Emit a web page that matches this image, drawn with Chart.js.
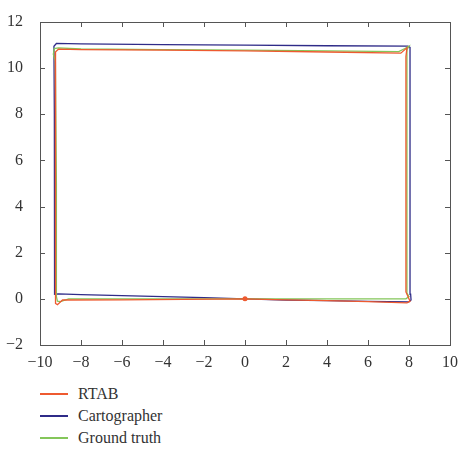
<!DOCTYPE html>
<html lang="en">
<head>
    <meta charset="UTF-8">
    <title>Trajectories</title>
    <script src="https://cdn.jsdelivr.net/npm/chart.js"></script>
    <style>
        body { margin: 0; background: #fff; font-family: "Liberation Serif", serif; }
        .wrap { position: relative; width: 474px; height: 460px; }
        canvas { position: absolute; left: 0; top: 0; }
        .legend { position: absolute; left: 40px; top: 383px; font-size: 16px; color: #333; }
        .row { height: 22px; display: flex; align-items: center; }
        .swatch { width: 28px; height: 1.5px; margin-right: 10px; }
    </style>
</head>
<body>
    <div class="wrap">
        <canvas id="grafico" width="474" height="380"></canvas>
        <div class="legend" id="legenda"></div>
    </div>

<script>
    // valores
    const seriesNames = ['RTAB', 'Cartographer', 'Ground truth'];
    const seriesColors = ['#ee5a30', '#2f2b88', '#84c65a'];

    const xTicks = [-10, -8, -6, -4, -2, 0, 2, 4, 6, 8, 10];
    const yTicks = [-2, 0, 2, 4, 6, 8, 10, 12];

    const rtabX = [0, 2, 4, 6, 7.9, 8.05, 7.95, 7.85, 7.85, 7.85, 7.9, 7.6, 4, 0, -4, -8, -9.1, -9.25, -9.25, -9.25, -9.25, -9.22, -9.15, -8.9, -6, -3, 0];
    const rtabY = [0, -0.04, -0.08, -0.12, -0.17, -0.1, 0.1, 0.3, 5, 10.5, 10.88, 10.65, 10.7, 10.75, 10.78, 10.8, 10.82, 10.7, 8, 4, 0.1, -0.2, -0.25, -0.05, -0.04, -0.02, 0];

    const cartoX = [0, 2, 4, 6, 8.0, 8.1, 8.08, 8.05, 8.05, 7.95, 4, 0, -4, -8, -9.2, -9.32, -9.3, -9.3, -9.28, -9.1, -8, -6, -4, -2, 0];
    const cartoY = [0, -0.05, -0.08, -0.11, -0.13, -0.05, 0.2, 5, 10.9, 10.95, 10.97, 11.0, 11.02, 11.05, 11.07, 10.95, 8, 4, 0.2, 0.22, 0.18, 0.14, 0.1, 0.05, 0];

    const truthX = [0, 4, 7.85, 8.0, 7.9, 7.9, 7.9, 8.0, 7.8, 7.5, 4, 0, -4, -8, -9.1, -9.3, -9.35, -9.25, -9.2, -9.2, -9.15, -9.0, -8.6, -4, 0];
    const truthY = [0, 0, 0, 0.1, 0.25, 5, 10.8, 10.95, 10.85, 10.72, 10.75, 10.78, 10.8, 10.83, 10.88, 10.85, 10.6, 10.3, 5, 0.1, -0.1, -0.12, 0, 0, 0];

    function pontos(xs, ys) {
        return xs.map((x, i) => ({ x: x, y: ys[i] }));
    }

    const allX = [rtabX, cartoX, truthX];
    const allY = [rtabY, cartoY, truthY];

    const datasets = seriesNames.map((nome, i) => ({
        label: nome,
        data: pontos(allX[i], allY[i]),
        showLine: true,
        borderColor: seriesColors[i],
        backgroundColor: seriesColors[i],
        borderWidth: 1.3,
        // ponto inicial do RTAB marcado
        pointRadius: i === 0 ? (ctx => ctx.dataIndex === 0 ? 2.5 : 0) : 0,
        pointBorderWidth: 0,
        tension: 0,
        order: i === 0 ? 0 : 3 - i
    }));

    const menos = v => String(v).replace('-', '\u2212');

    // caixa em volta e ticks para dentro (estilo matlab)
    const caixa = {
        id: 'caixa',
        afterDraw(chart) {
            const { ctx, chartArea: a, scales } = chart;
            ctx.save();
            ctx.strokeStyle = '#555';
            ctx.lineWidth = 1;
            ctx.strokeRect(Math.round(a.left) + 0.5, Math.round(a.top) + 0.5, Math.round(a.right - a.left), Math.round(a.bottom - a.top));
            ctx.beginPath();
            xTicks.forEach(v => {
                const px = Math.round(scales.x.getPixelForValue(v)) + 0.5;
                ctx.moveTo(px, a.bottom); ctx.lineTo(px, a.bottom - 5);
                ctx.moveTo(px, a.top); ctx.lineTo(px, a.top + 5);
            });
            yTicks.forEach(v => {
                const py = Math.round(scales.y.getPixelForValue(v)) + 0.5;
                ctx.moveTo(a.left, py); ctx.lineTo(a.left + 5, py);
                ctx.moveTo(a.right, py); ctx.lineTo(a.right - 5, py);
            });
            ctx.stroke();
            ctx.restore();
        }
    };

    const fonte = { family: '"Liberation Serif", serif', size: 16 };

    new Chart(document.getElementById('grafico'), {
        type: 'scatter',
        data: { datasets: datasets },
        options: {
            responsive: false,
            animation: false,
            layout: { padding: { top: 22, right: 24, left: 0, bottom: 0 } },
            plugins: { legend: { display: false }, tooltip: { enabled: false } },
            scales: {
                x: {
                    min: -10, max: 10,
                    afterBuildTicks: s => { s.ticks = xTicks.map(v => ({ value: v })); },
                    afterFit: s => { s.height = 35; },
                    grid: { display: false },
                    border: { display: false },
                    ticks: { color: '#333', font: fonte, padding: 0, maxRotation: 0, callback: menos }
                },
                y: {
                    min: -2, max: 12,
                    afterBuildTicks: s => { s.ticks = yTicks.map(v => ({ value: v })); },
                    afterFit: s => { s.width = 40; },
                    grid: { display: false },
                    border: { display: false },
                    ticks: { color: '#333', font: fonte, padding: 9, callback: menos }
                }
            }
        },
        plugins: [caixa]
    });

    // legenda embaixo, uma por linha
    const legenda = document.getElementById('legenda');
    seriesNames.forEach((nome, i) => {
        legenda.innerHTML += `<div class="row"><span class="swatch" style="background:${seriesColors[i]}"></span>${nome}</div>`;
    });
</script>
</body>
</html>
